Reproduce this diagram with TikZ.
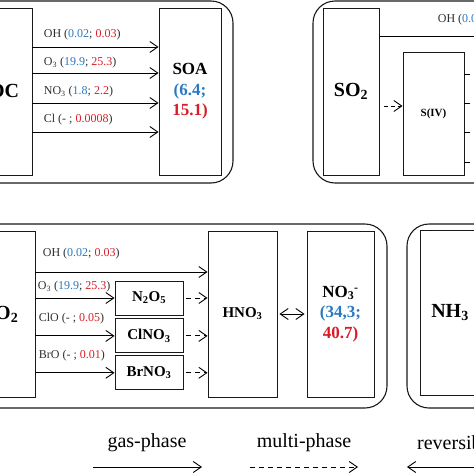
\documentclass[tikz,border=0pt]{standalone}
\usepackage{fontspec}
\setmainfont{Liberation Serif}
\usetikzlibrary{arrows.meta, positioning}
\usepackage{xcolor}
\definecolor{cBlue}{RGB}{40,120,195}
\definecolor{cRed}{RGB}{215,30,40}
\definecolor{cText}{RGB}{45,45,45}
\newcommand{\bl}[1]{\textcolor{cBlue}{#1}}
\newcommand{\rd}[1]{\textcolor{cRed}{#1}}
\tikzset{
  panel/.style={rectangle, rounded corners=22pt, draw=black!90, line width=1.1pt},
  specbox/.style={rectangle, draw=black!90, line width=0.9pt, align=center,
                  inner sep=0pt, font=\fontsize{20}{24}\selectfont\bfseries},
  midbox/.style={specbox, font=\fontsize{17}{20.5}\selectfont\bfseries},
  smallbox/.style={specbox, font=\fontsize{15}{18}\selectfont\bfseries,
                   minimum width=68pt, minimum height=34pt},
  lbl/.style={inner sep=0pt, anchor=west, font=\fontsize{12}{14}\selectfont, text=cText},
  legtext/.style={inner sep=0pt, font=\fontsize{20}{24}\selectfont},
  gasarrow/.style={-{Straight Barb[length=8pt,width=11pt]}, line width=0.9pt},
  multiarrow/.style={gasarrow, dash pattern=on 5pt off 4pt},
  revarrow/.style={{Straight Barb[length=8pt,width=11pt]}-{Straight Barb[length=8pt,width=11pt]},
                   line width=0.9pt}
}
\begin{document}
\begin{tikzpicture}[x=1pt, y=-1pt]
  \useasboundingbox (0,0) rectangle (474,474);
  \clip (0,0) rectangle (474,474);

  % Panels
  \draw[panel] (-60,1) rectangle (233,183);
  \draw[panel] (313,1) rectangle (540,183);
  \draw[panel] (-60,224) rectangle (387,408);
  \draw[panel] (407,224) rectangle (540,408);

  % VOC -> SOA
  \node[specbox, minimum width=70pt, minimum height=167pt] (voc) at (-3,91.5) {VOC};
  \node[midbox, minimum width=62pt, minimum height=167pt] (soa) at (190,91.5)
      {SOA\\\bl{(6.4;}\\\rd{15.1)}};

  \draw[gasarrow] (voc.east |- 0,47) -- (soa.west |- 0,47)
      node[lbl, pos=0, xshift=11pt, yshift=12pt] (lohA) {OH (\bl{0.02}; \rd{0.03})};
  \draw[gasarrow] (voc.east |- 0,73) -- (soa.west |- 0,73)
      node[lbl, pos=0, xshift=11pt, yshift=10pt] (lothreeA) {O\textsubscript{3} (\bl{19.9}; \rd{25.3})};
  \draw[gasarrow] (voc.east |- 0,103) -- (soa.west |- 0,103)
      node[lbl, pos=0, xshift=11pt, yshift=11pt] (lnothree) {NO\textsubscript{3} (\bl{1.8}; \rd{2.2})};
  \draw[gasarrow] (voc.east |- 0,132) -- (soa.west |- 0,132)
      node[lbl, pos=0, xshift=11pt, yshift=12pt] (lcl) {Cl (- ; \rd{0.0008})};

  % SO2 -> S(IV)
  \node[specbox, minimum width=56pt, minimum height=167pt] (so2) at (351,91.5) {SO\textsubscript{2}};
  \node[specbox, font=\fontsize{11}{13}\selectfont\bfseries,
        minimum width=61pt, minimum height=123pt] (siv) at (433.5,113.5) {S(IV)};

  \coordinate (ohend) at (500,36);
  \draw[gasarrow] (so2.east |- ohend) -- (ohend)
      node[lbl, pos=0, xshift=58pt, yshift=16pt] (lohB) {OH (\bl{0.02}; \rd{0.03})};
  \draw[multiarrow, dash pattern=on 4pt off 3pt, shorten <=5pt] (so2.east |- 0,106) -- (siv.west |- 0,106);
  \foreach \y in {74,103,132,162}{
    \coordinate (stub\y) at (470,\y);
    \draw[line width=0.9pt] (siv.east |- stub\y) -- (stub\y);
  }

  % NO2 -> HNO3 <-> NO3-
  \node[specbox, minimum width=71pt, minimum height=166pt] (no2) at (-0.5,314) {NO\textsubscript{2}};
  \node[specbox, font=\fontsize{15}{18}\selectfont\bfseries,
        minimum width=69pt, minimum height=166pt] (hno3) at (242.5,314) {HNO\textsubscript{3}};
  \node[midbox, minimum width=67pt, minimum height=166pt] (no3) at (340.5,314)
      {NO\textsubscript{3}\textsuperscript{-}\\\bl{(34,3;}\\\rd{40.7)}};

  \node[smallbox] (n2o5) at (149,298) {N\textsubscript{2}O\textsubscript{5}};
  \node[smallbox, below=3pt of n2o5] (clno3) {ClNO\textsubscript{3}};
  \node[smallbox, below=2pt of clno3] (brno3) {BrNO\textsubscript{3}};

  \draw[gasarrow] (no2.east |- 0,272) -- (hno3.west |- 0,272)
      node[lbl, pos=0, xshift=7pt, yshift=18pt] (lohC) {OH (\bl{0.02}; \rd{0.03})};
  \draw[gasarrow] (no2.east |- n2o5.west) -- (n2o5.west)
      node[lbl, pos=0, xshift=2pt, yshift=11pt] (lothreeB) {O\textsubscript{3} (\bl{19.9}; \rd{25.3})};
  \draw[gasarrow] (no2.east |- clno3.west) -- (clno3.west)
      node[lbl, pos=0, xshift=3pt, yshift=17pt] (lclo) {ClO (- ; \rd{0.05})};
  \draw[gasarrow] (no2.east |- brno3.west) -- (brno3.west)
      node[lbl, pos=0, xshift=3pt, yshift=17pt] (lbro) {BrO (- ; \rd{0.01})};

  \draw[multiarrow, shorten <=3pt] (n2o5.east) -- (hno3.west |- n2o5.east);
  \draw[multiarrow, shorten <=3pt] (clno3.east) -- (hno3.west |- clno3.east);
  \draw[multiarrow, shorten <=3pt] (brno3.east) -- (hno3.west |- brno3.east);
  \draw[revarrow, shorten <=2pt, shorten >=2pt] (hno3.east) -- (no3.west);

  % NH3
  \node[specbox, minimum width=60pt, minimum height=165pt] (nh3) at (450,312.5) {NH\textsubscript{3}};

  % Legend
  \node[legtext] (tgas) at (147,443) {gas-phase};
  \node[legtext] (tmulti) at (304,443) {multi-phase};
  \node[legtext, anchor=west] (trev) at (417,443) {reversible};
  \coordinate (gasL) at (93,467);   \coordinate (gasR) at (202,467);
  \coordinate (multiL) at (250,467); \coordinate (multiR) at (358,467);
  \coordinate (revL) at (407,467);  \coordinate (revR) at (540,467);
  \draw[gasarrow] (gasL) -- (gasR);
  \draw[multiarrow] (multiL) -- (multiR);
  \draw[revarrow] (revL) -- (revR);

\end{tikzpicture}
\end{document}
